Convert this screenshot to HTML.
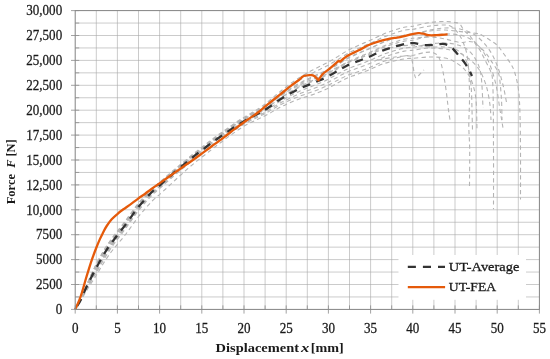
<!DOCTYPE html>
<html><head><meta charset="utf-8"><title>Force-displacement</title>
<style>
html,body{margin:0;padding:0;background:#fff}
svg{display:block}
text{font-family:"Liberation Serif","DejaVu Serif",serif;fill:#1a1a1a}
.tk{font-size:13px;stroke:#1a1a1a;stroke-width:.25px}
.lg{font-size:13.4px;stroke:#1a1a1a;stroke-width:.3px}
.ti{font-size:13px;font-weight:bold}
</style></head><body>
<svg width="550" height="359" viewBox="0 0 550 359">
<rect width="550" height="359" fill="#fff"/>
<path d="M96.30 10.60V309.40M117.40 10.60V309.40M138.50 10.60V309.40M159.60 10.60V309.40M180.70 10.60V309.40M201.80 10.60V309.40M222.90 10.60V309.40M244.00 10.60V309.40M265.10 10.60V309.40M286.20 10.60V309.40M307.30 10.60V309.40M328.40 10.60V309.40M349.50 10.60V309.40M370.60 10.60V309.40M391.70 10.60V309.40M412.80 10.60V309.40M433.90 10.60V309.40M455.00 10.60V309.40M476.10 10.60V309.40M497.20 10.60V309.40M518.30 10.60V309.40M75.20 296.95H539.40M75.20 284.50H539.40M75.20 272.05H539.40M75.20 259.60H539.40M75.20 247.15H539.40M75.20 234.70H539.40M75.20 222.25H539.40M75.20 209.80H539.40M75.20 197.35H539.40M75.20 184.90H539.40M75.20 172.45H539.40M75.20 160.00H539.40M75.20 147.55H539.40M75.20 135.10H539.40M75.20 122.65H539.40M75.20 110.20H539.40M75.20 97.75H539.40M75.20 85.30H539.40M75.20 72.85H539.40M75.20 60.40H539.40M75.20 47.95H539.40M75.20 35.50H539.40M75.20 23.05H539.40" stroke="#a8a8a8" stroke-width="0.6" fill="none"/>
<path d="M75.2 309.4C76.4 307.2 79.9 301.1 82.2 296.4C84.5 291.6 86.9 285.9 89.2 281.0C91.5 276.1 93.9 271.5 96.2 267.1C98.5 262.7 100.9 258.5 103.2 254.6C105.5 250.7 107.9 247.1 110.2 243.7C112.5 240.4 114.9 237.4 117.2 234.4C119.5 231.3 121.9 228.5 124.2 225.4C126.5 222.3 128.9 218.9 131.2 215.7C133.5 212.5 135.9 209.1 138.2 206.2C140.5 203.3 142.9 200.8 145.2 198.2C147.5 195.6 149.9 193.1 152.2 190.8C154.5 188.6 156.9 186.9 159.2 184.8C161.5 182.8 163.9 180.6 166.2 178.6C168.5 176.5 170.9 174.5 173.2 172.5C175.5 170.5 177.9 168.5 180.2 166.5C182.5 164.6 184.9 162.7 187.2 160.8C189.5 158.9 191.9 156.9 194.2 155.1C196.5 153.3 198.9 151.5 201.2 149.7C203.5 147.9 205.9 146.1 208.2 144.3C210.5 142.5 212.9 140.7 215.2 139.0C217.5 137.3 219.9 135.6 222.2 134.0C224.5 132.3 226.9 130.6 229.2 129.0C231.5 127.3 233.9 125.7 236.2 124.1C238.5 122.6 240.9 121.1 243.2 119.7C245.5 118.3 247.9 117.0 250.2 115.7C252.5 114.4 254.9 113.2 257.2 111.8C259.5 110.5 261.9 109.1 264.2 107.6C266.5 106.1 268.9 104.4 271.2 102.6C273.5 100.9 275.9 99.0 278.2 97.3C280.5 95.6 282.9 94.1 285.2 92.5C287.5 91.0 289.9 89.4 292.2 88.0C294.5 86.6 296.9 85.3 299.2 84.1C301.5 82.8 303.9 81.6 306.2 80.5C308.5 79.4 310.9 78.4 313.2 77.3C315.5 76.3 317.9 75.2 320.2 74.1C322.5 73.0 324.9 72.0 327.2 70.8C329.5 69.6 331.9 68.1 334.2 66.8C336.5 65.4 338.9 63.9 341.2 62.5C343.5 61.0 345.9 59.5 348.2 58.2C350.5 57.0 352.9 56.0 355.2 54.9C357.5 53.8 359.9 52.8 362.2 51.7C364.5 50.7 366.9 49.8 369.2 48.7C371.5 47.7 373.9 46.6 376.2 45.5C378.5 44.4 380.9 43.2 383.2 42.2C385.5 41.2 387.9 40.5 390.2 39.6C392.5 38.8 394.9 38.0 397.2 37.2C399.5 36.5 401.9 35.7 404.2 35.2C406.5 34.7 409.7 34.5 411.2 34.4C412.7 34.2 409.9 34.8 413.0 34.3C416.1 33.7 424.7 31.7 430.0 31.0C435.3 30.3 439.3 29.8 445.0 30.0C450.7 30.2 458.8 31.4 464.0 32.0C469.2 32.6 473.2 32.8 476.3 33.4C479.4 34.0 480.0 34.2 482.4 35.4C484.8 36.6 488.0 38.8 490.5 40.5C493.0 42.2 495.4 43.4 497.6 45.6C499.8 47.8 501.5 50.7 503.7 53.7C505.9 56.8 508.9 60.7 510.8 63.9C512.7 67.1 513.6 68.7 514.9 73.0C516.2 77.3 517.6 83.0 518.5 90.0C519.4 97.0 519.7 105.0 520.0 115.0C520.3 125.0 520.4 135.9 520.5 150.0C520.6 164.1 520.5 191.2 520.5 199.5" stroke="#b4b4b4" stroke-width="1.1" stroke-dasharray="4.2 3.2" fill="none"/>
<path d="M75.2 309.4C76.4 307.2 79.9 301.0 82.2 296.2C84.5 291.3 86.9 285.4 89.2 280.4C91.5 275.4 93.9 270.6 96.2 266.1C98.5 261.7 100.9 257.5 103.2 253.6C105.5 249.7 107.9 246.1 110.2 242.7C112.5 239.4 114.9 236.4 117.2 233.4C119.5 230.3 121.9 227.5 124.2 224.4C126.5 221.3 128.9 217.9 131.2 214.7C133.5 211.5 135.9 208.1 138.2 205.2C140.5 202.3 142.9 199.8 145.2 197.2C147.5 194.6 149.9 192.1 152.2 189.8C154.5 187.6 156.9 185.9 159.2 183.8C161.5 181.8 163.9 179.6 166.2 177.5C168.5 175.4 170.9 173.3 173.2 171.2C175.5 169.1 177.9 167.1 180.2 165.0C182.5 163.0 184.9 161.0 187.2 159.0C189.5 157.0 191.9 155.0 194.2 153.2C196.5 151.3 198.9 149.5 201.2 147.7C203.5 145.9 205.9 144.1 208.2 142.3C210.5 140.5 212.9 138.7 215.2 137.0C217.5 135.3 219.9 133.6 222.2 132.0C224.5 130.3 226.9 128.6 229.2 127.0C231.5 125.3 233.9 123.7 236.2 122.1C238.5 120.6 240.9 119.1 243.2 117.7C245.5 116.3 247.9 115.0 250.2 113.6C252.5 112.2 254.9 110.9 257.2 109.4C259.5 107.9 261.9 106.4 264.2 104.7C266.5 103.0 268.9 101.1 271.2 99.2C273.5 97.2 275.9 95.0 278.2 93.1C280.5 91.2 282.9 89.4 285.2 87.6C287.5 85.8 289.9 84.0 292.2 82.4C294.5 80.7 296.9 79.2 299.2 77.7C301.5 76.2 303.9 74.8 306.2 73.5C308.5 72.2 310.9 71.0 313.2 69.8C315.5 68.6 317.9 67.4 320.2 66.2C322.5 65.0 324.9 64.0 327.2 62.8C329.5 61.5 331.9 60.1 334.2 58.8C336.5 57.4 338.9 55.9 341.2 54.5C343.5 53.0 345.9 51.5 348.2 50.2C350.5 49.0 352.9 48.0 355.2 46.9C357.5 45.8 359.9 44.8 362.2 43.7C364.5 42.7 366.9 41.8 369.2 40.7C371.5 39.7 373.9 38.6 376.2 37.5C378.5 36.4 380.9 35.2 383.2 34.2C385.5 33.2 387.9 32.5 390.2 31.6C392.5 30.8 394.9 30.0 397.2 29.2C399.5 28.5 401.9 27.7 404.2 27.2C406.5 26.7 409.7 26.5 411.2 26.4C412.7 26.2 409.9 26.9 413.0 26.3C416.1 25.6 424.7 23.3 430.0 22.5C435.3 21.7 440.8 21.5 445.0 21.5C449.2 21.5 452.5 22.1 455.0 22.5C457.5 22.9 458.5 22.9 460.0 24.2C461.5 25.5 462.3 28.3 464.0 30.3C465.7 32.3 468.3 34.2 470.2 36.4C472.1 38.6 473.6 41.2 475.3 43.6C477.0 46.0 478.6 47.8 480.3 50.7C482.0 53.6 483.7 57.4 485.4 60.8C487.1 64.2 489.3 68.0 490.5 71.0C491.7 74.0 492.1 74.3 492.5 79.1C492.9 83.9 493.0 88.2 493.2 100.0C493.4 111.8 493.4 131.8 493.5 150.0C493.6 168.2 493.5 199.4 493.5 209.3" stroke="#b4b4b4" stroke-width="1.1" stroke-dasharray="4.2 3.2" fill="none"/>
<path d="M75.2 309.4C76.4 307.3 79.9 301.3 82.2 296.8C84.5 292.2 86.9 286.8 89.2 282.2C91.5 277.6 93.9 273.2 96.2 269.0C98.5 264.7 100.9 260.5 103.2 256.5C105.5 252.6 107.9 248.7 110.2 245.2C112.5 241.6 114.9 238.4 117.2 235.2C119.5 231.9 121.9 228.9 124.2 225.6C126.5 222.4 128.9 219.0 131.2 215.7C133.5 212.5 135.9 209.1 138.2 206.2C140.5 203.3 142.9 200.8 145.2 198.2C147.5 195.6 149.9 193.1 152.2 190.8C154.5 188.6 156.9 186.9 159.2 184.8C161.5 182.8 163.9 180.6 166.2 178.5C168.5 176.4 170.9 174.3 173.2 172.2C175.5 170.1 177.9 168.1 180.2 166.0C182.5 164.0 184.9 162.0 187.2 160.0C189.5 158.0 191.9 156.0 194.2 154.2C196.5 152.3 198.9 150.5 201.2 148.7C203.5 146.9 205.9 145.1 208.2 143.3C210.5 141.5 212.9 139.7 215.2 138.0C217.5 136.3 219.9 134.6 222.2 133.0C224.5 131.3 226.9 129.6 229.2 128.0C231.5 126.3 233.9 124.7 236.2 123.1C238.5 121.6 240.9 120.1 243.2 118.7C245.5 117.3 247.9 116.0 250.2 114.6C252.5 113.3 254.9 112.0 257.2 110.5C259.5 109.1 261.9 107.6 264.2 106.0C266.5 104.3 268.9 102.5 271.2 100.7C273.5 98.8 275.9 96.7 278.2 94.9C280.5 93.0 282.9 91.3 285.2 89.6C287.5 87.9 289.9 86.2 292.2 84.6C294.5 83.0 296.9 81.6 299.2 80.2C301.5 78.8 303.9 77.4 306.2 76.2C308.5 74.9 310.9 73.8 313.2 72.7C315.5 71.5 317.9 70.3 320.2 69.2C322.5 68.0 324.9 67.0 327.2 65.8C329.5 64.6 331.9 63.1 334.2 61.8C336.5 60.4 338.9 58.9 341.2 57.5C343.5 56.0 345.9 54.5 348.2 53.2C350.5 52.0 352.9 51.0 355.2 49.9C357.5 48.8 359.9 47.8 362.2 46.7C364.5 45.7 366.9 44.8 369.2 43.7C371.5 42.7 373.9 41.6 376.2 40.5C378.5 39.4 380.9 38.2 383.2 37.2C385.5 36.2 387.9 35.5 390.2 34.6C392.5 33.8 394.9 33.0 397.2 32.2C399.5 31.5 401.9 30.7 404.2 30.2C406.5 29.7 409.7 29.5 411.2 29.4C412.7 29.2 409.9 29.8 413.0 29.3C416.1 28.7 424.7 26.7 430.0 26.0C435.3 25.3 441.3 24.8 445.0 25.0C448.7 25.2 449.8 25.7 452.0 27.0C454.2 28.3 456.2 30.5 458.0 33.0C459.8 35.5 461.5 38.3 463.0 42.0C464.5 45.7 466.0 49.5 467.0 55.0C468.0 60.5 468.6 67.5 469.0 75.0C469.4 82.5 469.5 91.7 469.5 100.0C469.5 108.3 468.8 116.7 468.8 125.0C468.8 133.3 469.6 139.8 469.7 150.0C469.8 160.2 469.5 180.2 469.5 186.3" stroke="#b4b4b4" stroke-width="1.1" stroke-dasharray="4.2 3.2" fill="none"/>
<path d="M75.2 309.4C76.4 307.3 79.9 301.4 82.2 297.0C84.5 292.5 86.9 287.3 89.2 282.8C91.5 278.3 93.9 274.1 96.2 269.9C98.5 265.7 100.9 261.5 103.2 257.6C105.5 253.7 107.9 249.9 110.2 246.5C112.5 243.0 114.9 239.9 117.2 236.8C119.5 233.6 121.9 230.7 124.2 227.5C126.5 224.3 128.9 220.9 131.2 217.7C133.5 214.5 135.9 211.1 138.2 208.2C140.5 205.3 142.9 202.8 145.2 200.2C147.5 197.6 149.9 195.1 152.2 192.8C154.5 190.6 156.9 188.9 159.2 186.8C161.5 184.8 163.9 182.6 166.2 180.6C168.5 178.5 170.9 176.5 173.2 174.5C175.5 172.5 177.9 170.5 180.2 168.5C182.5 166.6 184.9 164.7 187.2 162.8C189.5 160.9 191.9 158.9 194.2 157.1C196.5 155.3 198.9 153.5 201.2 151.7C203.5 149.9 205.9 148.1 208.2 146.3C210.5 144.5 212.9 142.7 215.2 141.0C217.5 139.3 219.9 137.6 222.2 136.0C224.5 134.3 226.9 132.6 229.2 131.0C231.5 129.3 233.9 127.7 236.2 126.1C238.5 124.6 240.9 123.1 243.2 121.7C245.5 120.3 247.9 119.0 250.2 117.7C252.5 116.4 254.9 115.2 257.2 113.9C259.5 112.5 261.9 111.2 264.2 109.7C266.5 108.2 268.9 106.6 271.2 104.9C273.5 103.2 275.9 101.3 278.2 99.7C280.5 98.0 282.9 96.5 285.2 95.0C287.5 93.5 289.9 92.0 292.2 90.6C294.5 89.3 296.9 88.0 299.2 86.8C301.5 85.6 303.9 84.4 306.2 83.4C308.5 82.3 310.9 81.3 313.2 80.3C315.5 79.2 317.9 78.1 320.2 77.1C322.5 76.0 324.9 75.0 327.2 73.8C329.5 72.6 331.9 71.2 334.2 69.8C336.5 68.5 338.9 67.0 341.2 65.7C343.5 64.3 345.9 62.9 348.2 61.7C350.5 60.5 352.9 59.6 355.2 58.6C357.5 57.6 359.9 56.6 362.2 55.6C364.5 54.6 366.9 53.7 369.2 52.7C371.5 51.7 373.9 50.6 376.2 49.5C378.5 48.4 380.9 47.2 383.2 46.2C385.5 45.2 387.9 44.5 390.2 43.6C392.5 42.8 394.9 42.0 397.2 41.2C399.5 40.5 401.9 39.7 404.2 39.2C406.5 38.7 409.7 38.5 411.2 38.4C412.7 38.2 409.9 38.5 413.0 38.3C416.1 38.0 424.7 36.9 430.0 37.0C435.3 37.1 440.0 38.1 445.0 39.0C450.0 39.9 456.2 42.1 460.0 42.5C463.8 42.9 465.7 41.5 468.0 41.5C470.3 41.5 471.9 41.5 474.0 42.5C476.1 43.5 478.2 45.7 480.3 47.6C482.4 49.5 484.4 51.2 486.4 53.7C488.4 56.2 490.6 60.0 492.5 62.9C494.4 65.8 496.4 68.3 497.6 71.0C498.8 73.7 499.1 74.2 499.7 79.0C500.3 83.8 501.1 93.2 501.5 100.0C501.9 106.8 501.9 116.7 502.0 120.0" stroke="#b4b4b4" stroke-width="1.1" stroke-dasharray="4.2 3.2" fill="none"/>
<path d="M75.2 309.4C76.4 307.5 79.9 302.0 82.2 298.1C84.5 294.3 86.9 290.1 89.2 286.4C91.5 282.6 93.9 279.3 96.2 275.5C98.5 271.7 100.9 267.4 103.2 263.7C105.5 260.0 107.9 256.4 110.2 253.3C112.5 250.1 114.9 247.4 117.2 244.6C119.5 241.8 121.9 239.2 124.2 236.2C126.5 233.3 128.9 229.9 131.2 226.7C133.5 223.5 135.9 220.0 138.2 217.0C140.5 214.0 142.9 211.4 145.2 208.7C147.5 206.0 149.9 203.3 152.2 201.0C154.5 198.7 156.9 196.9 159.2 194.8C161.5 192.7 163.9 190.6 166.2 188.5C168.5 186.3 170.9 184.1 173.2 182.0C175.5 179.8 177.9 177.6 180.2 175.5C182.5 173.4 184.9 171.3 187.2 169.2C189.5 167.2 191.9 165.1 194.2 163.2C196.5 161.3 198.9 159.5 201.2 157.7C203.5 155.9 205.9 154.1 208.2 152.2C210.5 150.4 212.9 148.5 215.2 146.7C217.5 144.9 219.9 143.2 222.2 141.5C224.5 139.7 226.9 137.9 229.2 136.2C231.5 134.5 233.9 132.8 236.2 131.2C238.5 129.6 240.9 128.1 243.2 126.7C245.5 125.3 247.9 124.1 250.2 122.9C252.5 121.7 254.9 120.6 257.2 119.5C259.5 118.4 261.9 117.4 264.2 116.2C266.5 115.0 268.9 113.7 271.2 112.4C273.5 111.0 275.9 109.5 278.2 108.3C280.5 107.0 282.9 106.0 285.2 104.9C287.5 103.8 289.9 102.7 292.2 101.7C294.5 100.8 296.9 99.9 299.2 99.1C301.5 98.2 303.9 97.5 306.2 96.7C308.5 95.9 310.9 95.2 313.2 94.4C315.5 93.6 317.9 92.7 320.2 91.8C322.5 90.9 324.9 89.9 327.2 88.8C329.5 87.6 331.9 86.2 334.2 84.9C336.5 83.7 338.9 82.4 341.2 81.1C343.5 79.9 345.9 78.6 348.2 77.6C350.5 76.6 352.9 75.9 355.2 75.0C357.5 74.1 359.9 73.3 362.2 72.4C364.5 71.5 366.9 70.7 369.2 69.7C371.5 68.8 373.9 67.6 376.2 66.6C378.5 65.7 380.9 64.6 383.2 63.8C385.5 63.0 387.9 62.5 390.2 61.9C392.5 61.3 394.9 60.8 397.2 60.3C399.5 59.8 401.9 59.2 404.2 58.9C406.5 58.5 409.7 58.4 411.2 58.3C412.7 58.2 409.9 58.5 413.0 58.3C416.1 58.0 424.7 57.0 430.0 57.0C435.3 57.0 440.8 57.2 445.0 58.0C449.2 58.8 451.7 60.0 455.0 62.0C458.3 64.0 462.2 66.7 465.0 70.0C467.8 73.3 470.2 77.0 472.0 82.0C473.8 87.0 475.2 92.0 476.0 100.0C476.8 108.0 476.8 125.0 477.0 130.0" stroke="#b4b4b4" stroke-width="1.1" stroke-dasharray="4.2 3.2" fill="none"/>
<path d="M75.2 309.4C76.4 307.4 79.9 301.5 82.2 297.2C84.5 292.8 86.9 287.8 89.2 283.4C91.5 279.0 93.9 275.0 96.2 270.8C98.5 266.7 100.9 262.5 103.2 258.6C105.5 254.8 107.9 251.1 110.2 247.7C112.5 244.4 114.9 241.4 117.2 238.4C119.5 235.3 121.9 232.5 124.2 229.4C126.5 226.3 128.9 222.9 131.2 219.7C133.5 216.5 135.9 213.0 138.2 210.0C140.5 207.0 142.9 204.4 145.2 201.7C147.5 199.0 149.9 196.3 152.2 194.0C154.5 191.7 156.9 189.9 159.2 187.8C161.5 185.8 163.9 183.7 166.2 181.7C168.5 179.6 170.9 177.7 173.2 175.7C175.5 173.8 177.9 171.9 180.2 170.0C182.5 168.2 184.9 166.4 187.2 164.5C189.5 162.7 191.9 160.8 194.2 159.0C196.5 157.2 198.9 155.5 201.2 153.7C203.5 151.9 205.9 150.2 208.2 148.4C210.5 146.7 212.9 144.9 215.2 143.3C217.5 141.6 219.9 140.1 222.2 138.5C224.5 136.9 226.9 135.3 229.2 133.7C231.5 132.1 233.9 130.6 236.2 129.1C238.5 127.6 240.9 126.1 243.2 124.7C245.5 123.3 247.9 122.0 250.2 120.8C252.5 119.6 254.9 118.6 257.2 117.5C259.5 116.3 261.9 115.3 264.2 114.0C266.5 112.8 268.9 111.5 271.2 110.1C273.5 108.8 275.9 107.2 278.2 105.9C280.5 104.6 282.9 103.5 285.2 102.4C287.5 101.3 289.9 100.1 292.2 99.1C294.5 98.1 296.9 97.2 299.2 96.4C301.5 95.5 303.9 94.7 306.2 93.9C308.5 93.0 310.9 92.4 313.2 91.5C315.5 90.7 317.9 89.8 320.2 88.8C322.5 87.9 324.9 86.9 327.2 85.8C329.5 84.6 331.9 83.2 334.2 82.0C336.5 80.7 338.9 79.5 341.2 78.4C343.5 77.2 345.9 76.0 348.2 75.0C350.5 74.1 352.9 73.5 355.2 72.7C357.5 71.9 359.9 71.1 362.2 70.3C364.5 69.5 366.9 68.7 369.2 67.7C371.5 66.8 373.9 65.6 376.2 64.6C378.5 63.6 380.9 62.5 383.2 61.6C385.5 60.8 387.9 60.2 390.2 59.5C392.5 58.8 394.9 58.2 397.2 57.6C399.5 57.0 401.9 56.4 404.2 56.0C406.5 55.6 409.7 55.5 411.2 55.3C412.7 55.2 410.7 55.7 413.0 55.3C415.3 54.8 421.5 52.9 425.0 52.5C428.5 52.1 431.5 51.7 434.0 53.0C436.5 54.3 438.2 55.0 440.1 60.1C442.0 65.2 443.7 75.2 445.1 83.5C446.5 91.8 447.7 104.1 448.5 110.2C449.3 116.3 449.8 118.5 450.1 120.2" stroke="#b4b4b4" stroke-width="1.1" stroke-dasharray="4.2 3.2" fill="none"/>
<path d="M75.2 309.4C76.4 307.1 79.9 300.8 82.2 295.8C84.5 290.8 86.9 284.5 89.2 279.2C91.5 274.0 93.9 268.9 96.2 264.3C98.5 259.7 100.9 255.5 103.2 251.6C105.5 247.8 107.9 244.3 110.2 241.0C112.5 237.7 114.9 234.9 117.2 232.0C119.5 229.1 121.9 226.4 124.2 223.3C126.5 220.3 128.9 216.9 131.2 213.7C133.5 210.6 135.9 207.2 138.2 204.4C140.5 201.5 142.9 199.2 145.2 196.7C147.5 194.3 149.9 191.8 152.2 189.7C154.5 187.5 156.9 185.8 159.2 183.8C161.5 181.8 163.9 179.7 166.2 177.7C168.5 175.6 170.9 173.7 173.2 171.7C175.5 169.8 177.9 167.9 180.2 166.0C182.5 164.2 184.9 162.4 187.2 160.5C189.5 158.7 191.9 156.8 194.2 155.0C196.5 153.2 198.9 151.5 201.2 149.7C203.5 148.0 205.9 146.3 208.2 144.6C210.5 143.0 212.9 141.4 215.2 139.8C217.5 138.3 219.9 136.9 222.2 135.5C224.5 134.0 226.9 132.6 229.2 131.2C231.5 129.7 233.9 128.3 236.2 126.9C238.5 125.5 240.9 124.1 243.2 122.7C245.5 121.3 247.9 120.0 250.2 118.8C252.5 117.5 254.9 116.4 257.2 115.2C259.5 114.0 261.9 112.8 264.2 111.5C266.5 110.1 268.9 108.6 271.2 107.1C273.5 105.6 275.9 103.9 278.2 102.5C280.5 101.0 282.9 99.8 285.2 98.5C287.5 97.2 289.9 95.8 292.2 94.7C294.5 93.5 296.9 92.5 299.2 91.4C301.5 90.4 303.9 89.5 306.2 88.5C308.5 87.6 310.9 86.8 313.2 85.8C315.5 84.9 317.9 83.9 320.2 82.9C322.5 81.9 324.9 81.0 327.2 79.8C329.5 78.6 331.9 77.2 334.2 75.9C336.5 74.7 338.9 73.4 341.2 72.1C343.5 70.9 345.9 69.6 348.2 68.6C350.5 67.6 352.9 66.9 355.2 66.0C357.5 65.1 359.9 64.3 362.2 63.4C364.5 62.5 366.9 61.7 369.2 60.7C371.5 59.7 373.9 58.6 376.2 57.6C378.5 56.5 380.9 55.3 383.2 54.4C385.5 53.5 387.9 52.8 390.2 52.1C392.5 51.3 394.9 50.6 397.2 49.9C399.5 49.3 401.9 48.5 404.2 48.1C406.5 47.7 409.7 47.5 411.2 47.3C412.7 47.2 409.9 47.8 413.0 47.3C416.1 46.7 424.7 44.7 430.0 44.0C435.3 43.3 440.3 42.8 445.0 43.0C449.7 43.2 454.2 43.8 458.0 45.0C461.8 46.2 465.0 47.5 468.0 50.0C471.0 52.5 473.8 55.8 476.0 60.0C478.2 64.2 479.8 67.0 481.0 75.0C482.2 83.0 482.7 102.5 483.0 108.0" stroke="#b4b4b4" stroke-width="1.1" stroke-dasharray="4.2 3.2" fill="none"/>
<path d="M75.2 309.4C76.4 307.1 79.9 300.8 82.2 295.8C84.5 290.8 86.9 284.5 89.2 279.2C91.5 274.0 93.9 268.9 96.2 264.3C98.5 259.7 100.9 255.5 103.2 251.6C105.5 247.7 107.9 244.1 110.2 240.7C112.5 237.4 114.9 234.4 117.2 231.4C119.5 228.3 121.9 225.5 124.2 222.4C126.5 219.3 128.9 215.9 131.2 212.7C133.5 209.5 135.9 206.2 138.2 203.4C140.5 200.5 142.9 198.2 145.2 195.7C147.5 193.3 149.9 190.8 152.2 188.7C154.5 186.5 156.9 184.8 159.2 182.8C161.5 180.8 163.9 178.7 166.2 176.7C168.5 174.6 170.9 172.7 173.2 170.7C175.5 168.8 177.9 166.9 180.2 165.0C182.5 163.2 184.9 161.4 187.2 159.5C189.5 157.7 191.9 155.8 194.2 154.0C196.5 152.2 198.9 150.5 201.2 148.7C203.5 147.0 205.9 145.2 208.2 143.5C210.5 141.8 212.9 140.1 215.2 138.6C217.5 137.0 219.9 135.5 222.2 134.0C224.5 132.5 226.9 130.9 229.2 129.4C231.5 127.9 233.9 126.4 236.2 125.0C238.5 123.5 240.9 122.1 243.2 120.7C245.5 119.3 247.9 118.0 250.2 116.7C252.5 115.4 254.9 114.3 257.2 113.0C259.5 111.7 261.9 110.5 264.2 109.0C266.5 107.6 268.9 106.0 271.2 104.4C273.5 102.8 275.9 100.9 278.2 99.4C280.5 97.8 282.9 96.4 285.2 95.0C287.5 93.6 289.9 92.1 292.2 90.8C294.5 89.6 296.9 88.4 299.2 87.3C301.5 86.1 303.9 85.0 306.2 84.0C308.5 83.0 310.9 82.1 313.2 81.1C315.5 80.1 317.9 79.1 320.2 78.0C322.5 77.0 324.9 76.0 327.2 74.8C329.5 73.6 331.9 72.2 334.2 70.8C336.5 69.5 338.9 68.0 341.2 66.7C343.5 65.3 345.9 63.9 348.2 62.7C350.5 61.5 352.9 60.6 355.2 59.6C357.5 58.6 359.9 57.6 362.2 56.6C364.5 55.6 366.9 54.7 369.2 53.7C371.5 52.7 373.9 51.6 376.2 50.6C378.5 49.5 380.9 48.3 383.2 47.4C385.5 46.5 387.9 45.8 390.2 45.1C392.5 44.3 394.9 43.6 397.2 42.9C399.5 42.3 401.9 41.5 404.2 41.1C406.5 40.7 409.7 40.5 411.2 40.3C412.7 40.2 409.9 41.0 413.0 40.3C416.1 39.5 424.7 37.0 430.0 36.0C435.3 35.0 440.0 34.2 445.0 34.0C450.0 33.8 455.5 34.0 460.0 35.0C464.5 36.0 468.3 37.5 472.0 40.0C475.7 42.5 479.0 45.8 482.0 50.0C485.0 54.2 487.7 59.2 490.0 65.0C492.3 70.8 494.3 77.5 496.0 85.0C497.7 92.5 498.8 102.8 500.0 110.0C501.2 117.2 502.5 125.0 503.0 128.0" stroke="#b4b4b4" stroke-width="1.1" stroke-dasharray="4.2 3.2" fill="none"/>
<path d="M75.2 309.4C76.4 307.3 79.9 301.4 82.2 297.0C84.5 292.5 86.9 287.3 89.2 282.8C91.5 278.3 93.9 274.1 96.2 269.9C98.5 265.7 100.9 261.5 103.2 257.6C105.5 253.7 107.9 250.1 110.2 246.7C112.5 243.4 114.9 240.4 117.2 237.4C119.5 234.3 121.9 231.5 124.2 228.4C126.5 225.3 128.9 221.9 131.2 218.7C133.5 215.5 135.9 212.0 138.2 209.0C140.5 206.0 142.9 203.4 145.2 200.7C147.5 198.0 149.9 195.3 152.2 193.0C154.5 190.7 156.9 188.9 159.2 186.8C161.5 184.7 163.9 182.6 166.2 180.5C168.5 178.4 170.9 176.3 173.2 174.2C175.5 172.1 177.9 170.1 180.2 168.0C182.5 166.0 184.9 164.0 187.2 162.0C189.5 160.0 191.9 158.0 194.2 156.2C196.5 154.3 198.9 152.5 201.2 150.7C203.5 148.9 205.9 147.1 208.2 145.2C210.5 143.4 212.9 141.5 215.2 139.7C217.5 137.9 219.9 136.2 222.2 134.5C224.5 132.7 226.9 130.9 229.2 129.2C231.5 127.5 233.9 125.8 236.2 124.2C238.5 122.6 240.9 121.1 243.2 119.7C245.5 118.3 247.9 117.0 250.2 115.7C252.5 114.3 254.9 113.1 257.2 111.7C259.5 110.4 261.9 109.0 264.2 107.4C266.5 105.9 268.9 104.1 271.2 102.4C273.5 100.6 275.9 98.7 278.2 96.9C280.5 95.2 282.9 93.6 285.2 92.1C287.5 90.5 289.9 88.9 292.2 87.4C294.5 86.0 296.9 84.6 299.2 83.3C301.5 82.1 303.9 80.8 306.2 79.7C308.5 78.5 310.9 77.5 313.2 76.4C315.5 75.3 317.9 74.2 320.2 73.1C322.5 72.0 324.9 71.0 327.2 69.8C329.5 68.6 331.9 67.2 334.2 65.8C336.5 64.5 338.9 63.0 341.2 61.7C343.5 60.3 345.9 58.9 348.2 57.7C350.5 56.5 352.9 55.6 355.2 54.6C357.5 53.6 359.9 52.6 362.2 51.6C364.5 50.6 366.9 49.7 369.2 48.7C371.5 47.7 373.9 46.6 376.2 45.5C378.5 44.4 380.9 43.2 383.2 42.2C385.5 41.2 387.9 40.5 390.2 39.6C392.5 38.8 394.9 38.0 397.2 37.2C399.5 36.5 401.9 35.7 404.2 35.2C406.5 34.7 409.7 34.5 411.2 34.4C412.7 34.2 409.9 35.0 413.0 34.3C416.1 33.5 424.7 31.0 430.0 30.0C435.3 29.0 440.0 28.2 445.0 28.0C450.0 27.8 455.0 27.8 460.0 29.0C465.0 30.2 470.3 31.8 475.0 35.0C479.7 38.2 484.3 43.0 488.0 48.0C491.7 53.0 494.5 58.8 497.0 65.0C499.5 71.2 501.3 78.3 503.0 85.0C504.7 91.7 506.3 101.7 507.0 105.0" stroke="#b4b4b4" stroke-width="1.1" stroke-dasharray="4.2 3.2" fill="none"/>
<path d="M75.2 309.4C76.4 307.4 79.9 301.7 82.2 297.5C84.5 293.4 86.9 288.7 89.2 284.6C91.5 280.4 93.9 276.7 96.2 272.7C98.5 268.7 100.9 264.5 103.2 260.6C105.5 256.7 107.9 252.9 110.2 249.5C112.5 246.0 114.9 242.9 117.2 239.8C119.5 236.6 121.9 233.7 124.2 230.5C126.5 227.3 128.9 224.0 131.2 220.7C133.5 217.5 135.9 214.0 138.2 211.0C140.5 208.0 142.9 205.4 145.2 202.7C147.5 200.0 149.9 197.3 152.2 195.0C154.5 192.7 156.9 190.9 159.2 188.8C161.5 186.8 163.9 184.6 166.2 182.6C168.5 180.5 170.9 178.5 173.2 176.5C175.5 174.5 177.9 172.5 180.2 170.5C182.5 168.6 184.9 166.7 187.2 164.8C189.5 162.9 191.9 160.9 194.2 159.1C196.5 157.3 198.9 155.5 201.2 153.7C203.5 151.9 205.9 150.1 208.2 148.3C210.5 146.5 212.9 144.7 215.2 143.0C217.5 141.3 219.9 139.6 222.2 138.0C224.5 136.3 226.9 134.6 229.2 133.0C231.5 131.3 233.9 129.7 236.2 128.1C238.5 126.6 240.9 125.1 243.2 123.7C245.5 122.3 247.9 121.0 250.2 119.8C252.5 118.6 254.9 117.5 257.2 116.3C259.5 115.2 261.9 114.0 264.2 112.7C266.5 111.5 268.9 110.0 271.2 108.6C273.5 107.2 275.9 105.6 278.2 104.2C280.5 102.8 282.9 101.6 285.2 100.4C287.5 99.2 289.9 98.0 292.2 96.9C294.5 95.8 296.9 94.9 299.2 93.9C301.5 92.9 303.9 92.1 306.2 91.2C308.5 90.3 310.9 89.6 313.2 88.7C315.5 87.8 317.9 86.9 320.2 85.9C322.5 84.9 324.9 83.9 327.2 82.8C329.5 81.6 331.9 80.2 334.2 78.9C336.5 77.7 338.9 76.4 341.2 75.1C343.5 73.9 345.9 72.6 348.2 71.6C350.5 70.6 352.9 69.9 355.2 69.0C357.5 68.1 359.9 67.3 362.2 66.4C364.5 65.5 366.9 64.7 369.2 63.7C371.5 62.7 373.9 61.6 376.2 60.6C378.5 59.5 380.9 58.3 383.2 57.4C385.5 56.5 387.9 55.8 390.2 55.1C392.5 54.3 394.9 53.6 397.2 52.9C399.5 52.3 401.9 51.5 404.2 51.1C406.5 50.7 409.7 50.5 411.2 50.3C412.7 50.2 409.9 50.7 413.0 50.3C416.1 49.9 423.8 48.0 430.0 48.0C436.2 48.0 444.2 48.7 450.0 50.0C455.8 51.3 460.3 53.0 465.0 56.0C469.7 59.0 474.5 63.2 478.0 68.0C481.5 72.8 484.0 78.8 486.0 85.0C488.0 91.2 489.2 99.2 490.0 105.0C490.8 110.8 490.8 117.5 491.0 120.0" stroke="#b4b4b4" stroke-width="1.1" stroke-dasharray="4.2 3.2" fill="none"/>
<path d="M75.2 309.4C76.4 307.2 79.9 300.9 82.2 296.0C84.5 291.1 86.9 284.9 89.2 279.8C91.5 274.7 93.9 269.7 96.2 265.2C98.5 260.7 100.9 256.5 103.2 252.6C105.5 248.7 107.9 245.1 110.2 241.7C112.5 238.4 114.9 235.4 117.2 232.4C119.5 229.3 121.9 226.5 124.2 223.4C126.5 220.3 128.9 216.9 131.2 213.7C133.5 210.5 135.9 207.1 138.2 204.2C140.5 201.3 142.9 198.8 145.2 196.2C147.5 193.6 149.9 191.1 152.2 188.8C154.5 186.6 156.9 184.9 159.2 182.8C161.5 180.8 163.9 178.7 166.2 176.7C168.5 174.6 170.9 172.7 173.2 170.7C175.5 168.8 177.9 166.9 180.2 165.0C182.5 163.2 184.9 161.4 187.2 159.5C189.5 157.7 191.9 155.8 194.2 154.0C196.5 152.2 198.9 150.5 201.2 148.7C203.5 146.9 205.9 145.1 208.2 143.3C210.5 141.5 212.9 139.7 215.2 138.0C217.5 136.3 219.9 134.6 222.2 133.0C224.5 131.3 226.9 129.6 229.2 128.0C231.5 126.3 233.9 124.7 236.2 123.1C238.5 121.6 240.9 120.1 243.2 118.7C245.5 117.3 247.9 116.0 250.2 114.7C252.5 113.4 254.9 112.3 257.2 111.0C259.5 109.7 261.9 108.5 264.2 107.0C266.5 105.6 268.9 104.0 271.2 102.4C273.5 100.8 275.9 98.9 278.2 97.4C280.5 95.8 282.9 94.4 285.2 93.0C287.5 91.6 289.9 90.1 292.2 88.8C294.5 87.6 296.9 86.4 299.2 85.3C301.5 84.1 303.9 83.0 306.2 82.0C308.5 81.0 310.9 80.1 313.2 79.1C315.5 78.1 317.9 77.1 320.2 76.0C322.5 75.0 324.9 74.0 327.2 72.8C329.5 71.6 331.9 70.2 334.2 69.0C336.5 67.7 338.9 66.5 341.2 65.4C343.5 64.2 345.9 63.0 348.2 62.0C350.5 61.1 352.9 60.5 355.2 59.7C357.5 58.9 359.9 58.1 362.2 57.3C364.5 56.5 366.9 55.6 369.2 54.7C371.5 53.8 373.9 52.6 376.2 51.7C378.5 50.8 380.9 49.9 383.2 49.2C385.5 48.6 387.9 48.2 390.2 47.8C392.5 47.4 394.9 47.0 397.2 46.6C399.5 46.3 401.9 45.9 404.2 45.6C406.5 45.4 409.7 45.4 411.2 45.3C412.7 45.3 411.5 45.1 413.0 45.3C414.5 45.4 417.2 45.7 420.0 46.0C422.8 46.3 425.8 46.8 430.0 47.0C434.2 47.2 440.8 46.7 445.0 47.0C449.2 47.3 452.0 47.7 455.0 49.0C458.0 50.3 460.8 52.2 463.0 55.0C465.2 57.8 466.7 61.0 468.0 66.0C469.3 71.0 470.3 77.7 471.0 85.0C471.7 92.3 471.8 102.5 472.0 110.0C472.2 117.5 472.4 126.7 472.5 130.0" stroke="#b4b4b4" stroke-width="1.1" stroke-dasharray="4.2 3.2" fill="none"/>
<path d="M378.0 60.0C380.8 59.5 389.7 57.7 395.0 57.0C400.3 56.3 407.2 55.5 410.0 56.0C412.8 56.5 411.3 57.3 412.0 60.0C412.7 62.7 413.3 69.0 414.0 72.0C414.7 75.0 415.0 77.7 416.0 78.0C417.0 78.3 418.7 75.3 420.0 74.0C421.3 72.7 423.3 70.7 424.0 70.0" stroke="#b4b4b4" stroke-width="1.1" stroke-dasharray="4.2 3.2" fill="none"/>
<path d="M75.2 309.4C76.1 307.8 78.8 303.7 80.7 299.9C82.6 296.1 84.4 291.4 86.6 286.8C88.8 282.2 91.3 277.1 93.7 272.6C96.1 268.1 98.4 263.7 100.8 259.6C103.2 255.5 105.5 251.4 107.9 247.8C110.3 244.2 113.2 240.7 115.0 238.3C116.8 235.9 116.9 235.7 118.7 233.4C120.5 231.1 123.4 227.6 125.8 224.4C128.2 221.2 130.8 217.2 132.9 214.3C135.0 211.4 136.4 209.3 138.5 206.8C140.6 204.3 143.3 201.3 145.2 199.2C147.1 197.0 148.4 195.6 150.0 193.9C151.6 192.2 153.3 190.7 155.0 189.2C156.7 187.7 158.4 186.5 160.1 185.1C161.8 183.7 163.2 182.2 165.0 180.6C166.8 179.0 169.0 177.3 170.8 175.7C172.6 174.1 174.0 172.6 176.0 170.9C178.0 169.2 180.7 167.2 182.6 165.6C184.5 164.0 185.6 163.1 187.4 161.6C189.2 160.1 191.3 158.4 193.3 156.8C195.3 155.2 197.2 153.7 199.2 152.2C201.2 150.7 203.1 149.3 205.1 147.8C207.1 146.3 209.1 144.7 211.1 143.2C213.1 141.7 215.0 140.4 217.0 139.0C219.0 137.6 221.1 136.2 222.9 135.0C224.7 133.8 226.1 132.8 228.0 131.5C229.9 130.2 231.2 129.2 234.2 127.3C237.2 125.4 242.2 122.2 246.1 119.9C250.0 117.6 254.4 115.6 257.9 113.7C261.3 111.8 263.3 110.9 266.8 108.7C270.3 106.5 274.8 103.0 278.7 100.4C282.6 97.8 286.6 95.5 290.5 93.3C294.4 91.1 298.4 89.2 302.4 87.4C306.3 85.6 310.2 84.3 314.2 82.6C318.1 80.9 322.2 79.4 326.1 77.4C330.1 75.4 334.4 72.8 337.9 70.8C341.3 68.8 343.3 67.4 346.8 65.7C350.3 64.0 354.8 62.5 358.7 60.9C362.6 59.3 366.6 57.9 370.5 56.2C374.4 54.5 378.4 52.3 382.4 50.7C386.3 49.1 390.2 47.9 394.2 46.7C398.1 45.5 402.8 44.2 406.1 43.6C409.4 43.0 411.3 43.0 414.2 43.2C417.1 43.4 420.5 44.7 423.7 45.0C426.9 45.3 430.0 45.2 433.2 45.0C436.4 44.8 440.0 43.8 442.6 43.9C445.2 44.0 446.8 44.6 448.6 45.5C450.4 46.4 451.5 47.3 453.3 49.1C455.1 50.9 457.2 53.8 459.2 56.2C461.2 58.6 463.3 60.7 465.1 63.3C466.9 65.9 468.8 69.5 469.9 71.6C471.0 73.7 471.6 75.3 472.0 76.0" stroke="#333" stroke-width="2.3" stroke-dasharray="8.1 6.5" stroke-dashoffset="-4" fill="none"/>
<path d="M75.2 309.4C75.9 307.8 78.1 303.1 79.3 300.1C80.5 297.2 81.2 294.9 82.2 291.7C83.2 288.5 84.2 284.5 85.3 280.7C86.4 276.9 87.8 272.4 89.0 268.6C90.2 264.8 91.4 261.1 92.6 257.7C93.8 254.3 95.0 251.1 96.2 248.0C97.4 244.9 98.7 241.8 99.9 239.1C101.1 236.4 102.4 234.0 103.5 231.8C104.6 229.6 105.3 228.1 106.7 226.0C108.1 223.9 109.9 221.3 111.7 219.3C113.5 217.3 115.6 215.5 117.6 213.8C119.5 212.1 121.0 211.0 123.4 209.3C125.8 207.6 129.3 205.2 131.8 203.4C134.3 201.6 136.3 200.0 138.5 198.4C140.7 196.8 143.0 195.3 145.2 193.7C147.4 192.1 148.7 190.9 151.8 188.7C154.9 186.5 159.8 183.2 163.7 180.4C167.6 177.6 171.6 174.9 175.5 172.1C179.4 169.3 183.5 166.6 187.4 163.8C191.3 161.0 195.2 158.3 199.2 155.5C203.1 152.7 207.1 149.6 211.1 146.7C215.1 143.8 219.1 141.0 222.9 138.1C226.8 135.2 230.3 132.3 234.2 129.4C238.1 126.5 242.2 123.6 246.1 120.8C250.0 118.0 254.4 115.1 257.9 112.5C261.3 109.9 263.3 107.9 266.8 105.1C270.3 102.3 274.8 98.8 278.7 95.7C282.6 92.6 286.9 89.0 290.5 86.2C294.1 83.4 298.0 80.7 300.0 79.1C302.0 77.5 301.4 77.3 302.4 76.7C303.4 76.1 304.5 75.8 305.9 75.5C307.3 75.2 309.3 75.0 310.7 75.1C312.1 75.2 312.9 75.1 314.2 76.0C315.5 76.9 318.5 80.3 318.5 80.3C318.5 80.3 320.9 76.1 322.5 74.3C324.1 72.5 326.2 71.4 328.4 69.6C330.6 67.8 333.8 65.2 335.5 63.7C337.2 62.2 338.6 60.9 338.6 60.9C338.6 60.9 340.2 61.6 340.2 61.6C340.2 61.6 343.7 58.1 346.8 56.2C349.9 54.3 354.8 52.3 358.7 50.3C362.6 48.3 366.6 46.0 370.5 44.3C374.4 42.6 378.4 41.4 382.4 40.3C386.3 39.2 391.3 38.4 394.2 37.9C397.1 37.4 397.4 37.7 400.0 37.2C402.6 36.7 406.9 35.4 410.0 34.7C413.1 34.0 416.2 33.4 418.4 33.2C420.6 33.0 421.7 33.4 423.4 33.7C425.1 34.0 426.2 35.0 428.4 35.2C430.6 35.5 433.6 35.3 436.8 35.2C440.0 35.1 445.8 34.5 447.6 34.4" stroke="#e55a0a" stroke-width="2.3" stroke-linejoin="round" fill="none"/>
<rect x="398.5" y="255" width="127.5" height="44.8" fill="#fff"/>
<path d="M407.8 266.9H445" stroke="#333" stroke-width="2.3" stroke-dasharray="8.1 7" fill="none"/>
<path d="M407.8 287.2H445.1" stroke="#e55a0a" stroke-width="2.3" fill="none"/>
<text x="448.8" y="270.8" class="lg" textLength="70.6" lengthAdjust="spacingAndGlyphs">UT-Average</text>
<text x="448.8" y="291.4" class="lg" id="fea" textLength="47.4" lengthAdjust="spacingAndGlyphs">UT-FEA</text>
<rect x="75.20" y="10.60" width="464.20" height="298.80" fill="none" stroke="#838383" stroke-width="1"/>
<path d="M75.20 305.40V313.60M117.40 305.40V313.60M159.60 305.40V313.60M201.80 305.40V313.60M244.00 305.40V313.60M286.20 305.40V313.60M328.40 305.40V313.60M370.60 305.40V313.60M412.80 305.40V313.60M455.00 305.40V313.60M497.20 305.40V313.60M539.40 305.40V313.60M96.30 305.40V309.40M138.50 305.40V309.40M180.70 305.40V309.40M222.90 305.40V309.40M265.10 305.40V309.40M307.30 305.40V309.40M349.50 305.40V309.40M391.70 305.40V309.40M433.90 305.40V309.40M476.10 305.40V309.40M518.30 305.40V309.40M71.00 309.40H79.20M71.00 284.50H79.20M71.00 259.60H79.20M71.00 234.70H79.20M71.00 209.80H79.20M71.00 184.90H79.20M71.00 160.00H79.20M71.00 135.10H79.20M71.00 110.20H79.20M71.00 85.30H79.20M71.00 60.40H79.20M71.00 35.50H79.20M71.00 10.60H79.20M75.20 296.95H79.20M75.20 272.05H79.20M75.20 247.15H79.20M75.20 222.25H79.20M75.20 197.35H79.20M75.20 172.45H79.20M75.20 147.55H79.20M75.20 122.65H79.20M75.20 97.75H79.20M75.20 72.85H79.20M75.20 47.95H79.20M75.20 23.05H79.20" stroke="#8a8a8a" stroke-width="0.8" fill="none"/>
<text transform="translate(62.2 314.1) scale(1.005 1.05)" class="tk" text-anchor="end">0</text>
<text transform="translate(62.2 289.2) scale(1.005 1.05)" class="tk" text-anchor="end">2500</text>
<text transform="translate(62.2 264.3) scale(1.005 1.05)" class="tk" text-anchor="end">5000</text>
<text transform="translate(62.2 239.4) scale(1.005 1.05)" class="tk" text-anchor="end">7500</text>
<text transform="translate(62.2 214.5) scale(1.005 1.05)" class="tk" text-anchor="end">10,000</text>
<text transform="translate(62.2 189.6) scale(1.005 1.05)" class="tk" text-anchor="end">12,500</text>
<text transform="translate(62.2 164.7) scale(1.005 1.05)" class="tk" text-anchor="end">15,000</text>
<text transform="translate(62.2 139.8) scale(1.005 1.05)" class="tk" text-anchor="end">17,500</text>
<text transform="translate(62.2 114.9) scale(1.005 1.05)" class="tk" text-anchor="end">20,000</text>
<text transform="translate(62.2 90.0) scale(1.005 1.05)" class="tk" text-anchor="end">22,500</text>
<text transform="translate(62.2 65.1) scale(1.005 1.05)" class="tk" text-anchor="end">25,000</text>
<text transform="translate(62.2 40.2) scale(1.005 1.05)" class="tk" text-anchor="end">27,500</text>
<text transform="translate(62.2 15.3) scale(1.005 1.05)" class="tk" text-anchor="end">30,000</text>
<text transform="translate(75.2 332.7) scale(1.005 1.05)" class="tk" text-anchor="middle">0</text>
<text transform="translate(117.4 332.7) scale(1.005 1.05)" class="tk" text-anchor="middle">5</text>
<text transform="translate(159.6 332.7) scale(1.005 1.05)" class="tk" text-anchor="middle">10</text>
<text transform="translate(201.8 332.7) scale(1.005 1.05)" class="tk" text-anchor="middle">15</text>
<text transform="translate(244.0 332.7) scale(1.005 1.05)" class="tk" text-anchor="middle">20</text>
<text transform="translate(286.2 332.7) scale(1.005 1.05)" class="tk" text-anchor="middle">25</text>
<text transform="translate(328.4 332.7) scale(1.005 1.05)" class="tk" text-anchor="middle">30</text>
<text transform="translate(370.6 332.7) scale(1.005 1.05)" class="tk" text-anchor="middle">35</text>
<text transform="translate(412.8 332.7) scale(1.005 1.05)" class="tk" text-anchor="middle">40</text>
<text transform="translate(455.0 332.7) scale(1.005 1.05)" class="tk" text-anchor="middle">45</text>
<text transform="translate(497.2 332.7) scale(1.005 1.05)" class="tk" text-anchor="middle">50</text>
<text transform="translate(539.4 332.7) scale(1.005 1.05)" class="tk" text-anchor="middle">55</text>
<g class="ti">
<text x="215.6" y="352.4" textLength="83.4" lengthAdjust="spacingAndGlyphs" id="xt">Displacement</text>
<text x="300.9" y="352.4" textLength="8.3" lengthAdjust="spacingAndGlyphs" font-style="italic">x</text>
<text x="310.8" y="352.4" textLength="33" lengthAdjust="spacingAndGlyphs">[mm]</text>
<text transform="translate(14.6 204.3) rotate(-90)" textLength="30.4" lengthAdjust="spacingAndGlyphs" id="yt">Force</text>
<text transform="translate(14.6 167.8) rotate(-90)" textLength="8.3" lengthAdjust="spacingAndGlyphs" font-style="italic">F</text>
<text transform="translate(14.6 156.5) rotate(-90)" textLength="17.1" lengthAdjust="spacingAndGlyphs">[N]</text>
</g>
</svg>
</body></html>
